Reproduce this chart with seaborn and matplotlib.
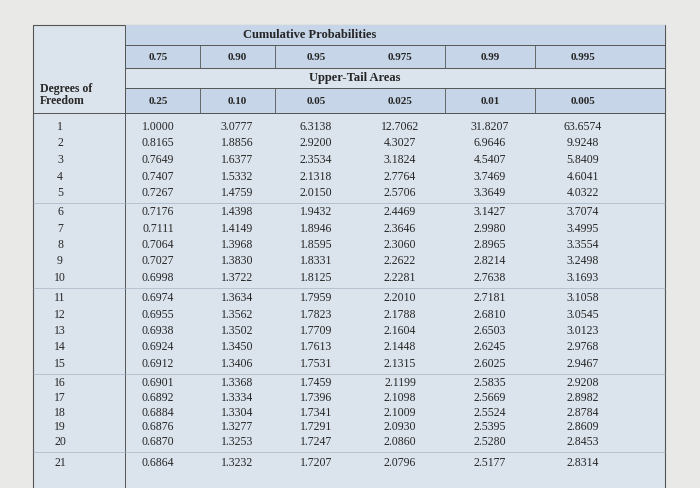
import matplotlib
matplotlib.use('Agg')
import matplotlib.pyplot as plt
import matplotlib.patches as mpatches
import seaborn as sns

sns.set_style("white")
plt.rcParams['font.family'] = ['Liberation Serif', 'DejaVu Serif']

cum_probs = ['0.75', '0.90', '0.95', '0.975', '0.99', '0.995']
tail_areas = ['0.25', '0.10', '0.05', '0.025', '0.01', '0.005']
dfs = list(range(1, 22))

t_75 = [1.0000, 0.8165, 0.7649, 0.7407, 0.7267, 0.7176, 0.7111, 0.7064, 0.7027, 0.6998,
        0.6974, 0.6955, 0.6938, 0.6924, 0.6912, 0.6901, 0.6892, 0.6884, 0.6876, 0.6870, 0.6864]
t_90 = [3.0777, 1.8856, 1.6377, 1.5332, 1.4759, 1.4398, 1.4149, 1.3968, 1.3830, 1.3722,
        1.3634, 1.3562, 1.3502, 1.3450, 1.3406, 1.3368, 1.3334, 1.3304, 1.3277, 1.3253, 1.3232]
t_95 = [6.3138, 2.9200, 2.3534, 2.1318, 2.0150, 1.9432, 1.8946, 1.8595, 1.8331, 1.8125,
        1.7959, 1.7823, 1.7709, 1.7613, 1.7531, 1.7459, 1.7396, 1.7341, 1.7291, 1.7247, 1.7207]
t_975 = [12.7062, 4.3027, 3.1824, 2.7764, 2.5706, 2.4469, 2.3646, 2.3060, 2.2622, 2.2281,
         2.2010, 2.1788, 2.1604, 2.1448, 2.1315, 2.1199, 2.1098, 2.1009, 2.0930, 2.0860, 2.0796]
t_99 = [31.8207, 6.9646, 4.5407, 3.7469, 3.3649, 3.1427, 2.9980, 2.8965, 2.8214, 2.7638,
        2.7181, 2.6810, 2.6503, 2.6245, 2.6025, 2.5835, 2.5669, 2.5524, 2.5395, 2.5280, 2.5177]
t_995 = [63.6574, 9.9248, 5.8409, 4.6041, 4.0322, 3.7074, 3.4995, 3.3554, 3.2498, 3.1693,
         3.1058, 3.0545, 3.0123, 2.9768, 2.9467, 2.9208, 2.8982, 2.8784, 2.8609, 2.8453, 2.8314]
columns = [t_75, t_90, t_95, t_975, t_99, t_995]

fig = plt.figure(figsize=(7, 4.88), dpi=100)
fig.patch.set_facecolor('#e9e9e7')
ax = fig.add_axes([0, 0, 1, 1])
ax.set_xlim(0, 700)
ax.set_ylim(488, 0)
ax.axis('off')

# table body and header bands
ax.add_patch(mpatches.Rectangle((33, 25), 632, 470, facecolor='#dbe3ec', edgecolor='#555555', lw=0.8))
ax.add_patch(mpatches.Rectangle((125, 25), 540, 43, facecolor='#c6d6e8', edgecolor='none'))
ax.add_patch(mpatches.Rectangle((125, 88), 540, 25, facecolor='#c6d6e8', edgecolor='none'))
for y in [45, 68, 88, 113]:
    ax.plot([125, 665], [y, y], color='#555555', lw=0.7)
ax.plot([33, 665], [113, 113], color='#555555', lw=0.7)
for x in [125, 200, 275, 445, 535]:
    ax.plot([x, x], [45, 68], color='#555555', lw=0.6)
    ax.plot([x, x], [88, 113], color='#555555', lw=0.6)
ax.plot([125, 125], [25, 488], color='#555555', lw=0.7)

col_x = [158, 237, 316, 400, 490, 583]
ax.text(310, 35, 'Cumulative Probabilities', ha='center', va='center', fontsize=9, fontweight='bold')
ax.text(355, 78, 'Upper-Tail Areas', ha='center', va='center', fontsize=9, fontweight='bold')
ax.text(40, 95, 'Degrees of\nFreedom', ha='left', va='center', fontsize=8.5, fontweight='bold', linespacing=1.1)
for x, c, t in zip(col_x, cum_probs, tail_areas):
    ax.text(x, 57, c, ha='center', va='center', fontsize=8, fontweight='bold')
    ax.text(x, 101, t, ha='center', va='center', fontsize=8, fontweight='bold')

group_start = [127, 212, 298, 383, 463]
group_step = [16.5, 16.5, 16.5, 14.8, 0]
for i, d in enumerate(dfs):
    g = i // 5
    y = group_start[g] + (i % 5) * group_step[g]
    ax.text(60, y, str(d), ha='center', va='center', fontsize=8.5)
    for x, col in zip(col_x, columns):
        ax.text(x, y, f'{col[i]:.4f}', ha='center', va='center', fontsize=8.5)
    if i % 5 == 4 and i < 20:
        ax.plot([33, 665], [y + 10, y + 10], color='#9aa8b8', lw=0.4)

fig.savefig('out.png', dpi=100, facecolor=fig.get_facecolor())
